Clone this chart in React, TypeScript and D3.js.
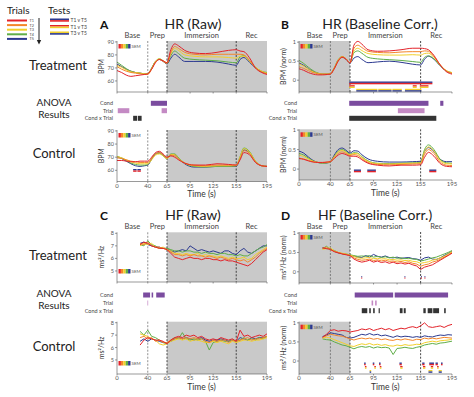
import React from 'react';
import * as d3 from 'd3';

// trial colours T1..T5
const COLORS = ['#e3232a', '#f4862a', '#f2d02b', '#5fae48', '#2b3990'];
const TRIAL_NAMES = ['T1', 'T2', 'T3', 'T4', 'T5'];
const TEST_NAMES = ['T1 v T5', 'T1 v T3', 'T3 v T5'];
const TEST_COLORS = [['#2b3990', '#e3232a'], ['#e3232a', '#f2d02b'], ['#f2d02b', '#2b3990']];
const X_TICKS = [0, 40, 65, 95, 125, 155, 195];
const PHASE_NAMES = ['Base', 'Prep', 'Immersion', 'Rec'];
const PHASE_BOUNDS = [0, 40, 65, 155, 195];
const ANOVA_NAMES = ['Cond', 'Trial', 'Cond x Trial'];
const ANOVA_COLORS = ['#7b4c9f', '#c48ac4', '#333333'];

// ---- HR (BPM) ----
const hrTime = [0, 6, 12, 18, 24, 30, 36, 40, 45, 50, 55, 60, 65, 70, 75, 80, 88, 100, 115, 130, 145, 155, 160, 165, 172, 180, 188, 195];

const hrRawTreat = [
  [68, 66.5, 64.5, 63.5, 64, 64.5, 65, 65.5, 69, 74, 76.5, 75.5, 74, 84, 88.5, 87, 83.5, 81.5, 81, 82, 83.5, 84, 83, 82.5, 78, 70, 66.5, 65],
  [71, 69, 67.5, 66.5, 66, 65.5, 65, 65, 69, 74.5, 76.5, 75, 73.5, 82, 86.5, 85, 82, 80.5, 80, 80.5, 80.5, 80.5, 80.5, 80, 76, 70, 67, 65.5],
  [72, 70.5, 68.5, 67, 66.5, 66, 65.5, 65.5, 69.5, 75, 77, 75.5, 74, 81, 85, 83.5, 80, 79, 78.5, 78.5, 78, 77.5, 79, 79, 75.5, 70.5, 67.5, 66],
  [74.5, 72, 69.5, 67.5, 66.5, 66, 65.5, 65.5, 70, 75, 77, 75.5, 73.5, 79.5, 83, 81, 77.5, 76.5, 76, 75.5, 74.5, 74, 78.5, 79.5, 75.5, 70.5, 67.5, 66.5],
  [73, 71, 69, 67.5, 66.5, 66, 65.5, 65.5, 69.5, 75, 76.5, 75, 73, 77.5, 80.5, 78.5, 75, 75, 75, 74.5, 73, 72, 76.5, 78, 74.5, 70, 67, 66],
];

const hrRawCtrl = [
  [67.5, 67.5, 67, 66.5, 66.5, 67, 67, 67, 70, 73.5, 74.5, 72.5, 70, 71, 70, 68, 65.5, 64, 64, 65, 64.5, 64, 68, 73.5, 72, 66, 63.5, 63],
  [69.5, 69, 68, 67, 66.5, 66, 66, 66, 69, 72.5, 73.5, 72, 69.5, 71.5, 71, 68.5, 65.5, 64, 63.5, 64, 64, 64, 69, 75, 73, 66.5, 63.5, 63],
  [70.5, 69.5, 68, 66.5, 65.5, 65, 65, 65, 68, 71.5, 72.5, 71, 69, 72, 72, 69, 65.5, 63.5, 63, 63.5, 63.5, 63.5, 70, 76.5, 74, 67, 63.5, 63],
  [70.5, 69.5, 67.5, 65.5, 64.5, 64, 64, 64.5, 68.5, 72.5, 73, 71, 69, 72.5, 72.5, 69.5, 65.5, 63, 62.5, 63, 63, 63.5, 70.5, 77, 74.5, 67, 63.5, 63],
  [70.5, 69, 67, 65, 63.5, 63, 63.5, 64, 68.5, 72.5, 73.5, 71.5, 69, 72, 72, 69, 65, 62.5, 62.5, 63, 63, 63, 69, 75.5, 73.5, 66.5, 63.5, 63],
];

const hrNormTreat = [
  [0.30, 0.26, 0.20, 0.16, 0.14, 0.14, 0.15, 0.16, 0.30, 0.50, 0.60, 0.55, 0.45, 0.92, 1.02, 0.95, 0.80, 0.76, 0.77, 0.80, 0.84, 0.84, 0.83, 0.80, 0.65, 0.40, 0.22, 0.16],
  [0.35, 0.31, 0.25, 0.20, 0.17, 0.16, 0.16, 0.17, 0.32, 0.52, 0.62, 0.56, 0.46, 0.84, 0.92, 0.86, 0.76, 0.73, 0.72, 0.74, 0.75, 0.75, 0.77, 0.76, 0.62, 0.40, 0.24, 0.18],
  [0.43, 0.37, 0.29, 0.22, 0.18, 0.16, 0.16, 0.17, 0.32, 0.53, 0.62, 0.56, 0.46, 0.77, 0.84, 0.78, 0.70, 0.67, 0.66, 0.66, 0.67, 0.66, 0.70, 0.71, 0.60, 0.40, 0.25, 0.20],
  [0.52, 0.44, 0.34, 0.25, 0.19, 0.16, 0.16, 0.17, 0.33, 0.54, 0.62, 0.56, 0.46, 0.72, 0.77, 0.71, 0.60, 0.56, 0.54, 0.52, 0.49, 0.47, 0.60, 0.64, 0.56, 0.38, 0.24, 0.20],
  [0.45, 0.39, 0.30, 0.23, 0.18, 0.16, 0.16, 0.17, 0.32, 0.53, 0.61, 0.55, 0.45, 0.58, 0.62, 0.55, 0.46, 0.48, 0.50, 0.47, 0.42, 0.40, 0.55, 0.63, 0.55, 0.38, 0.24, 0.19],
];

const hrNormCtrl = [
  [0.27, 0.25, 0.21, 0.18, 0.17, 0.17, 0.18, 0.19, 0.27, 0.36, 0.40, 0.37, 0.33, 0.33, 0.31, 0.24, 0.15, 0.10, 0.08, 0.10, 0.10, 0.11, 0.30, 0.43, 0.33, 0.14, 0.07, 0.06],
  [0.28, 0.26, 0.22, 0.19, 0.17, 0.17, 0.18, 0.20, 0.30, 0.40, 0.44, 0.40, 0.35, 0.37, 0.35, 0.27, 0.17, 0.12, 0.11, 0.12, 0.13, 0.14, 0.38, 0.50, 0.40, 0.18, 0.10, 0.09],
  [0.36, 0.32, 0.26, 0.20, 0.17, 0.16, 0.17, 0.19, 0.32, 0.44, 0.48, 0.43, 0.37, 0.40, 0.39, 0.30, 0.20, 0.14, 0.13, 0.14, 0.15, 0.16, 0.45, 0.57, 0.46, 0.22, 0.14, 0.13],
  [0.40, 0.36, 0.28, 0.21, 0.17, 0.15, 0.16, 0.18, 0.33, 0.46, 0.50, 0.45, 0.38, 0.42, 0.41, 0.32, 0.21, 0.15, 0.14, 0.15, 0.16, 0.17, 0.50, 0.62, 0.50, 0.25, 0.16, 0.15],
  [0.46, 0.41, 0.31, 0.22, 0.17, 0.15, 0.16, 0.19, 0.36, 0.50, 0.54, 0.48, 0.41, 0.47, 0.46, 0.37, 0.26, 0.20, 0.18, 0.18, 0.19, 0.20, 0.45, 0.55, 0.45, 0.25, 0.19, 0.19],
];

// ---- HF (ms²/Hz) ----
const hfTime = [30, 35, 40, 45, 50, 55, 60, 65, 70, 75, 80, 85, 90, 95, 100, 105, 110, 115, 120, 125, 130, 135, 140, 145, 150, 155, 160, 165, 170, 175, 180, 185, 190, 195];

const hfRawTreat = [
  [7.1, 7.3, 7.2, 7.0, 6.9, 6.8, 6.8, 6.7, 6.4, 6.1, 6.0, 5.9, 6.0, 6.1, 6.0, 6.0, 5.9, 6.0, 6.0, 5.9, 5.9, 5.8, 5.9, 5.8, 5.8, 5.7, 5.6, 5.5, 5.4, 5.6, 5.9, 6.2, 6.5, 6.7],
  [7.2, 7.1, 7.3, 7.0, 6.9, 6.9, 6.8, 6.7, 6.5, 6.3, 6.3, 6.2, 6.3, 6.2, 6.3, 6.2, 6.2, 6.1, 6.2, 6.1, 6.0, 6.1, 6.0, 5.9, 6.0, 5.9, 5.8, 5.9, 5.7, 5.9, 6.1, 6.4, 6.6, 6.8],
  [7.0, 7.2, 7.1, 7.2, 6.9, 6.8, 6.9, 6.7, 6.6, 6.4, 6.4, 6.3, 6.4, 6.3, 6.3, 6.4, 6.2, 6.3, 6.2, 6.2, 6.1, 6.2, 6.1, 6.0, 6.1, 6.0, 6.0, 6.1, 5.9, 6.0, 6.3, 6.5, 6.7, 6.9],
  [7.1, 7.0, 7.4, 7.1, 7.0, 6.8, 6.8, 6.8, 6.7, 6.6, 6.6, 6.5, 6.6, 6.6, 6.5, 6.5, 6.4, 6.5, 6.4, 6.4, 6.3, 6.4, 6.4, 6.3, 6.3, 6.2, 6.3, 6.2, 6.2, 6.4, 6.6, 6.8, 6.9, 7.1],
  [7.2, 7.3, 7.1, 7.0, 6.9, 6.9, 6.8, 6.8, 6.6, 6.5, 6.6, 6.7, 6.6, 7.0, 6.8, 6.6, 6.7, 6.6, 6.5, 6.6, 6.5, 6.4, 6.6, 6.6, 6.4, 6.3, 6.6, 6.8, 6.5, 6.4, 6.6, 6.8, 7.0, 7.0],
];

const hfRawCtrl = [
  [6.2, 6.6, 6.8, 6.7, 6.6, 6.6, 6.5, 6.3, 6.6, 6.8, 6.9, 6.8, 7.0, 6.9, 7.0, 6.8, 6.9, 6.7, 6.6, 6.7, 6.6, 6.8, 6.7, 6.6, 6.7, 6.5, 7.4, 6.9, 7.0, 6.8, 6.9, 7.0, 6.9, 7.1],
  [6.8, 6.9, 6.7, 6.8, 6.5, 6.6, 6.4, 6.4, 6.6, 6.7, 6.8, 6.7, 6.8, 6.7, 6.8, 6.7, 6.7, 6.5, 6.4, 6.6, 6.5, 6.6, 6.6, 6.4, 6.6, 6.5, 6.6, 6.7, 6.8, 6.6, 6.7, 6.7, 6.8, 6.9],
  [7.1, 7.0, 6.9, 6.7, 6.6, 6.3, 6.2, 6.3, 6.5, 6.6, 6.7, 6.6, 6.7, 6.5, 6.6, 6.6, 6.5, 6.4, 6.4, 6.5, 6.4, 6.5, 6.4, 6.3, 6.5, 6.4, 6.5, 6.6, 6.6, 6.5, 6.6, 6.6, 6.7, 6.8],
  [7.3, 7.0, 7.4, 6.9, 6.8, 6.6, 6.4, 6.3, 6.6, 6.8, 6.7, 7.2, 6.7, 6.6, 6.7, 6.6, 6.7, 6.5, 5.8, 6.4, 6.5, 6.6, 6.5, 6.5, 6.6, 6.5, 6.6, 6.8, 6.6, 6.7, 6.6, 6.8, 6.7, 6.9],
  [6.5, 6.7, 6.5, 6.7, 6.6, 6.5, 6.4, 6.4, 6.5, 6.7, 6.8, 6.7, 6.8, 6.7, 6.6, 6.7, 6.8, 6.6, 6.5, 6.6, 6.6, 6.7, 6.6, 6.5, 6.6, 6.5, 6.8, 6.7, 6.6, 6.8, 6.7, 6.8, 6.8, 6.9],
];

const hfNormTreat = [
  [0.62, 0.60, 0.58, 0.52, 0.49, 0.46, 0.44, 0.42, 0.33, 0.28, 0.25, 0.27, 0.30, 0.25, 0.28, 0.24, 0.26, 0.22, 0.25, 0.21, 0.23, 0.20, 0.22, 0.18, 0.15, 0.06, 0.12, 0.15, 0.18, 0.24, 0.30, 0.36, 0.42, 0.48],
  [0.60, 0.64, 0.57, 0.53, 0.50, 0.47, 0.45, 0.42, 0.36, 0.32, 0.30, 0.31, 0.33, 0.29, 0.31, 0.28, 0.30, 0.27, 0.28, 0.25, 0.27, 0.24, 0.26, 0.22, 0.20, 0.14, 0.18, 0.20, 0.25, 0.28, 0.32, 0.38, 0.43, 0.50],
  [0.58, 0.60, 0.62, 0.54, 0.50, 0.48, 0.46, 0.43, 0.40, 0.36, 0.35, 0.36, 0.37, 0.34, 0.35, 0.33, 0.34, 0.31, 0.32, 0.30, 0.31, 0.29, 0.30, 0.27, 0.26, 0.22, 0.24, 0.26, 0.30, 0.32, 0.36, 0.40, 0.46, 0.52],
  [0.60, 0.66, 0.58, 0.55, 0.50, 0.47, 0.46, 0.44, 0.42, 0.40, 0.41, 0.40, 0.42, 0.38, 0.40, 0.37, 0.39, 0.36, 0.38, 0.35, 0.36, 0.34, 0.35, 0.33, 0.32, 0.28, 0.30, 0.33, 0.36, 0.38, 0.42, 0.46, 0.50, 0.55],
  [0.62, 0.60, 0.60, 0.53, 0.49, 0.47, 0.45, 0.43, 0.40, 0.38, 0.37, 0.42, 0.38, 0.45, 0.40, 0.38, 0.41, 0.37, 0.36, 0.38, 0.35, 0.36, 0.37, 0.34, 0.33, 0.30, 0.36, 0.38, 0.33, 0.32, 0.36, 0.42, 0.47, 0.53],
];

const hfNormCtrl = [
  [0.62, 0.70, 0.80, 0.82, 0.78, 0.80, 0.79, 0.76, 0.78, 0.80, 0.84, 0.82, 0.85, 0.80, 0.83, 0.86, 0.82, 0.85, 0.80, 0.83, 0.86, 0.84, 0.88, 0.90, 0.87, 0.92, 1.00, 0.90, 0.88, 0.90, 0.92, 0.88, 0.93, 0.96],
  [0.62, 0.66, 0.70, 0.68, 0.66, 0.65, 0.62, 0.58, 0.55, 0.58, 0.60, 0.58, 0.60, 0.57, 0.59, 0.56, 0.58, 0.55, 0.54, 0.57, 0.55, 0.58, 0.56, 0.54, 0.57, 0.56, 0.60, 0.58, 0.60, 0.58, 0.60, 0.62, 0.61, 0.60],
  [0.60, 0.62, 0.60, 0.56, 0.52, 0.48, 0.44, 0.40, 0.38, 0.42, 0.45, 0.43, 0.46, 0.42, 0.44, 0.41, 0.43, 0.40, 0.39, 0.42, 0.40, 0.43, 0.41, 0.42, 0.44, 0.43, 0.48, 0.50, 0.52, 0.50, 0.53, 0.54, 0.55, 0.57],
  [0.58, 0.56, 0.55, 0.50, 0.46, 0.42, 0.40, 0.36, 0.32, 0.36, 0.38, 0.36, 0.38, 0.34, 0.37, 0.35, 0.36, 0.34, 0.17, 0.33, 0.34, 0.36, 0.34, 0.33, 0.36, 0.38, 0.42, 0.44, 0.46, 0.44, 0.47, 0.48, 0.50, 0.52],
  [0.64, 0.68, 0.74, 0.72, 0.70, 0.68, 0.62, 0.60, 0.62, 0.66, 0.70, 0.68, 0.72, 0.68, 0.70, 0.66, 0.68, 0.65, 0.62, 0.66, 0.63, 0.65, 0.64, 0.62, 0.64, 0.62, 0.66, 0.64, 0.63, 0.66, 0.68, 0.67, 0.69, 0.68],
];

// ---- significance intervals (s), per test T1vT5, T1vT3, T3vT5 ----
const sigHrNormTreat = [
  [[64, 170]],
  [[64, 71], [145, 150], [154, 165]],
  [[73, 100], [101, 118], [119, 131], [135, 156]],
];
const sigHrRawCtrl = [[[21, 25.5], [26.5, 31]], [], []];
const sigHrNormCtrl = [[[70, 79], [87, 98], [166, 175]], [], []];
const sigHfNormTreat = [[[79.5, 80.5], [134.5, 135.5], [155.5, 156.5], [160, 161]], [], []];
const sigHfNormCtrl = [
  [[83, 85], [94, 96], [102, 104], [128, 131], [157, 160], [166, 172], [174, 177], [181, 183]],
  [[84, 86], [96, 98], [103, 105], [129, 132], [158, 161], [168, 171], [176, 178]],
  [[90, 92], [165, 170], [178, 182]],
];

// ---- ANOVA intervals (s): Cond, Trial, Cond x Trial ----
const anovaHrRaw = [[[44, 65]], [[1, 16], [58, 65]], [[21, 26], [27, 32]]];
const anovaHrNorm = [[[64, 165], [180, 184]], [[126, 160]], [[64, 175]]];
const anovaHfRaw = [[[34, 43], [45, 47], [51, 62]], [[39.6, 40.4]], []];
const anovaHfNorm = [
  [[71, 120], [122, 190]],
  [[92.5, 94.5], [97, 99]],
  [[80, 87], [89.5, 91.5], [94.5, 96.5], [101.5, 103], [128.5, 132], [133.5, 136], [158.5, 161.5], [164, 170], [171, 178.5], [185, 187]],
];

const FONT = 'Lato, "Open Sans", sans-serif';
const GREY = '#c9c9c9';
const INK = '#555';

type PanelProps = {
  xr: [number, number];
  yr: [number, number];
  yDomain: [number, number];
  yTicks: number[];
  yLabel: string;
  times: number[];
  series: number[][];
  shade: [number, number];
  smooth: boolean;
  phases: boolean;
  xLabels: boolean;
  legendTop: boolean;
  sig: number[][][];
  sigRows: number[];
};

function Panel(p: PanelProps) {
  const x = d3.scaleLinear().domain([0, 195]).range(p.xr);
  const y = d3.scaleLinear().domain(p.yDomain).range(p.yr);
  const line = d3.line<number>()
    .x((_, i) => x(p.times[i]))
    .y((d) => y(d))
    .curve(p.smooth ? d3.curveMonotoneX : d3.curveLinear);
  const [top, bottom] = [p.yr[1], p.yr[0]];
  const left = p.xr[0];
  const legY = p.legendTop ? top + 3 : bottom - 13;
  const yMid = (top + bottom) / 2;
  return (
    <g>
      <rect x={x(p.shade[0])} y={top} width={x(p.shade[1]) - x(p.shade[0])} height={bottom - top} fill={GREY} />
      {[40, 65, 155].map((t) => (
        <line key={t} x1={x(t)} x2={x(t)} y1={top} y2={bottom} stroke={t === 40 ? '#444' : '#333'}
          strokeWidth={t === 40 ? 0.6 : 0.9} strokeDasharray="2,1.5" />
      ))}
      {p.series.slice().reverse().map((s, k) => (
        <path key={k} d={line(s) || ''} fill="none" stroke={COLORS[4 - k]} strokeWidth={1} />
      ))}
      {p.sig.map((rows, ti) => rows.map((iv, j) => (
        <g key={`${ti}-${j}`}>
          <rect x={x(iv[0])} y={bottom - p.sigRows[ti]} width={Math.max(0.8, x(iv[1]) - x(iv[0]))} height={1.4} fill={TEST_COLORS[ti][0]} />
          <rect x={x(iv[0])} y={bottom - p.sigRows[ti] + 1.4} width={Math.max(0.8, x(iv[1]) - x(iv[0]))} height={1.4} fill={TEST_COLORS[ti][1]} />
        </g>
      )))}
      {/* axes */}
      <line x1={left} x2={left} y1={top} y2={bottom} stroke={INK} strokeWidth={0.6} />
      <line x1={left} x2={p.xr[1]} y1={bottom} y2={bottom} stroke={INK} strokeWidth={0.6} />
      {p.yTicks.map((t) => (
        <g key={t}>
          <line x1={left - 2} x2={left} y1={y(t)} y2={y(t)} stroke={INK} strokeWidth={0.6} />
          <text x={left - 3} y={y(t) + 2} fontSize={5.5} textAnchor="end" fill={INK} fontFamily={FONT}>{t}</text>
        </g>
      ))}
      {X_TICKS.map((t) => (
        <g key={t}>
          <line x1={x(t)} x2={x(t)} y1={bottom} y2={bottom + 1.5} stroke={INK} strokeWidth={0.6} />
          {p.xLabels && (
            <text x={x(t)} y={bottom + 6} fontSize={6} textAnchor="middle" fill={INK} fontFamily={FONT}>{t}</text>
          )}
        </g>
      ))}
      {p.xLabels && (
        <text x={x(110)} y={bottom + 15.5} fontSize={8.5} textAnchor="middle" fill="#333" fontFamily={FONT}>Time (s)</text>
      )}
      {p.phases && PHASE_NAMES.map((n, i) => (
        <text key={n} x={x((PHASE_BOUNDS[i] + PHASE_BOUNDS[i + 1]) / 2)} y={top - 3} fontSize={7.5}
          textAnchor="middle" fill="#444" fontFamily={FONT}>{n}</text>
      ))}
      <text transform={`translate(${left - 13},${yMid}) rotate(-90)`} fontSize={7} textAnchor="middle" fill="#333" fontFamily={FONT}>{p.yLabel}</text>
      {/* SEM legend */}
      {COLORS.map((c, i) => (
        <rect key={c} x={left + 1.5 + i * 2.4} y={legY} width={2.4} height={4.5} fill={c} />
      ))}
      <text x={left + 14.5} y={legY + 3.8} fontSize={4.5} fill="#555" fontFamily={FONT}>SEM</text>
    </g>
  );
}

function Anova({ xr, labelX, rowsY, data }: { xr: [number, number]; labelX: number; rowsY: number[]; data: number[][][] }) {
  const x = d3.scaleLinear().domain([0, 195]).range(xr);
  return (
    <g>
      {ANOVA_NAMES.map((n, i) => (
        <text key={n} x={labelX} y={rowsY[i] + 2} fontSize={5.5} textAnchor="end" fill="#444" fontFamily={FONT}>{n}</text>
      ))}
      {data.map((rows, i) => rows.map((iv, j) => (
        <rect key={`${i}-${j}`} x={x(iv[0])} y={rowsY[i] - 2.5} width={Math.max(0.7, x(iv[1]) - x(iv[0]))} height={5} fill={ANOVA_COLORS[i]} />
      )))}
    </g>
  );
}

export default function App() {
  const L: [number, number] = [117, 267];
  const R: [number, number] = [299, 452];
  const norm = [0, 0.5, 1];
  return (
    <svg width={474} height={397} style={{ display: 'block', position: 'absolute', left: 0, top: 0, background: '#fff' }}>
      {/* legends */}
      <text x={7} y={14} fontSize={10} fill="#222" fontFamily={FONT}>Trials</text>
      {COLORS.map((c, i) => (
        <g key={c}>
          <line x1={7} x2={27} y1={20.5 + i * 4.6} y2={20.5 + i * 4.6} stroke={c} strokeWidth={2} />
          <text x={29.5} y={21.9 + i * 4.6} fontSize={3.8} fill="#444" fontFamily={FONT}>{TRIAL_NAMES[i]}</text>
        </g>
      ))}
      <line x1={39} x2={39} y1={18} y2={42} stroke="#222" strokeWidth={1} />
      <path d="M36.8,40 L41.2,40 L39,44.5 Z" fill="#222" />
      <text x={48} y={14} fontSize={10} fill="#222" fontFamily={FONT}>Tests</text>
      {TEST_COLORS.map((cs, i) => (
        <g key={i}>
          <rect x={50} y={18.5 + i * 6.5} width={19} height={1.6} fill={cs[0]} />
          <rect x={50} y={20.1 + i * 6.5} width={19} height={1.6} fill={cs[1]} />
          <text x={70.5} y={22 + i * 6.5} fontSize={5} fill="#444" fontFamily={FONT}>{TEST_NAMES[i]}</text>
        </g>
      ))}

      {/* row labels */}
      <text x={58} y={70} fontSize={13} textAnchor="middle" fill="#222" fontFamily={FONT}>Treatment</text>
      <text x={54} y={106} fontSize={10} textAnchor="middle" fill="#222" fontFamily={FONT}>ANOVA</text>
      <text x={54} y={118} fontSize={10} textAnchor="middle" fill="#222" fontFamily={FONT}>Results</text>
      <text x={54} y={158} fontSize={13} textAnchor="middle" fill="#222" fontFamily={FONT}>Control</text>
      <text x={58} y={260} fontSize={13} textAnchor="middle" fill="#222" fontFamily={FONT}>Treatment</text>
      <text x={54} y={297} fontSize={10} textAnchor="middle" fill="#222" fontFamily={FONT}>ANOVA</text>
      <text x={54} y={309} fontSize={10} textAnchor="middle" fill="#222" fontFamily={FONT}>Results</text>
      <text x={54} y={351} fontSize={13} textAnchor="middle" fill="#222" fontFamily={FONT}>Control</text>

      {/* titles */}
      <text x={100} y={29} fontSize={12} fontWeight="bold" fill="#111" fontFamily={FONT}>A</text>
      <text x={193} y={29} fontSize={14} textAnchor="middle" fill="#222" fontFamily={FONT}>HR (Raw)</text>
      <text x={281} y={29} fontSize={12} fontWeight="bold" fill="#111" fontFamily={FONT}>B</text>
      <text x={380} y={29} fontSize={14} textAnchor="middle" fill="#222" fontFamily={FONT}>HR (Baseline Corr.)</text>
      <text x={100} y={220} fontSize={12} fontWeight="bold" fill="#111" fontFamily={FONT}>C</text>
      <text x={193} y={220} fontSize={14} textAnchor="middle" fill="#222" fontFamily={FONT}>HF (Raw)</text>
      <text x={281} y={220} fontSize={12} fontWeight="bold" fill="#111" fontFamily={FONT}>D</text>
      <text x={375} y={220} fontSize={14} textAnchor="middle" fill="#222" fontFamily={FONT}>HF (Baseline Corr.)</text>

      {/* HR rows */}
      <Panel xr={L} yr={[92, 41]} yDomain={[51.5, 90.7]} yTicks={[60, 70, 80, 90]} yLabel="BPM" times={hrTime}
        series={hrRawTreat} shade={[65, 195]} smooth phases xLabels={false} legendTop sig={[[], [], []]} sigRows={[10, 6.5, 3]} />
      <Panel xr={R} yr={[92, 41]} yDomain={[-0.31, 1.03]} yTicks={norm} yLabel="BPM (norm)" times={hrTime}
        series={hrNormTreat} shade={[0, 65]} smooth phases xLabels={false} legendTop sig={sigHrNormTreat} sigRows={[10.5, 6.8, 3.2]} />
      <Anova xr={L} labelX={113} rowsY={[103.3, 110.7, 118.3]} data={anovaHrRaw} />
      <Anova xr={R} labelX={297} rowsY={[103.3, 110.7, 118.3]} data={anovaHrNorm} />
      <Panel xr={L} yr={[181.5, 130]} yDomain={[51.5, 90.7]} yTicks={[60, 70, 80, 90]} yLabel="BPM" times={hrTime}
        series={hrRawCtrl} shade={[65, 195]} smooth phases={false} xLabels legendTop sig={sigHrRawCtrl} sigRows={[12.5, 8, 4]} />
      <Panel xr={R} yr={[180, 129.3]} yDomain={[-0.28, 1.02]} yTicks={norm} yLabel="BPM (norm)" times={hrTime}
        series={hrNormCtrl} shade={[0, 65]} smooth phases={false} xLabels legendTop sig={sigHrNormCtrl} sigRows={[10.5, 7, 4]} />

      {/* HF rows */}
      <Panel xr={L} yr={[282, 232.3]} yDomain={[4.12, 8.08]} yTicks={[5, 6, 7, 8]} yLabel="ms²/Hz" times={hfTime}
        series={hfRawTreat} shade={[65, 195]} smooth={false} phases xLabels={false} legendTop={false} sig={[[], [], []]} sigRows={[10, 6.5, 3]} />
      <Panel xr={R} yr={[283, 232]} yDomain={[-0.29, 1.03]} yTicks={norm} yLabel="ms²/Hz (norm)" times={hfTime}
        series={hfNormTreat} shade={[0, 65]} smooth={false} phases xLabels={false} legendTop sig={sigHfNormTreat} sigRows={[7, 4, 2]} />
      <Anova xr={L} labelX={113} rowsY={[295, 303, 310.7]} data={anovaHfRaw} />
      <Anova xr={R} labelX={297} rowsY={[295, 303, 310.7]} data={anovaHfNorm} />
      <Panel xr={L} yr={[374, 321.7]} yDomain={[3.87, 8.08]} yTicks={[5, 6, 7, 8]} yLabel="ms²/Hz" times={hfTime}
        series={hfRawCtrl} shade={[65, 195]} smooth={false} phases={false} xLabels legendTop={false} sig={[[], [], []]} sigRows={[10, 6.5, 3]} />
      <Panel xr={R} yr={[374, 321.7]} yDomain={[-0.34, 1.03]} yTicks={norm} yLabel="ms²/Hz (norm)" times={hfTime}
        series={hfNormCtrl} shade={[0, 65]} smooth={false} phases={false} xLabels legendTop sig={sigHfNormCtrl} sigRows={[11.5, 8, 4]} />
    </svg>
  );
}
